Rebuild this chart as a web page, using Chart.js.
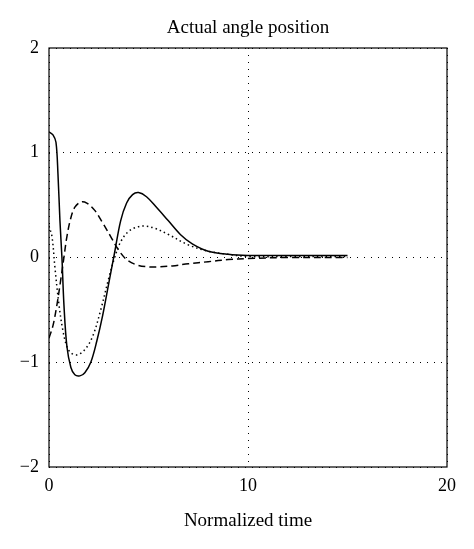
<!DOCTYPE html>
<html><head><meta charset="utf-8">
<script src="https://cdn.jsdelivr.net/npm/chart.js@4"></script>
<style>html,body{margin:0;padding:0;background:#fff}#w{width:474px;height:549px}</style>
</head><body><div id="w"><canvas id="c"></canvas></div>
<script>
const xTicks=[0,10,20];
const yTicks=[-2,-1,0,1,2];
const solidX=[0,0.2,0.35,0.45,0.55,0.65,0.75,0.9,1.1,1.3,1.55,1.8,2.1,2.4,2.7,3.0,3.3,3.6,3.9,4.2,4.5,4.9,5.4,6,6.6,7.2,8,9,10,12,15];
const solidY=[1.2,1.17,1.1,0.8,0.35,0.0,-0.45,-0.85,-1.05,-1.12,-1.13,-1.1,-1.0,-0.8,-0.55,-0.25,0.05,0.35,0.52,0.6,0.62,0.58,0.48,0.35,0.22,0.13,0.06,0.03,0.02,0.02,0.02];
const dotX=[0,0.15,0.3,0.5,0.7,0.9,1.1,1.4,1.8,2.2,2.6,3.0,3.3,3.6,4.0,4.4,4.8,5.3,6,7,8,9,10,12,15];
const dotY=[0.3,0.2,-0.1,-0.45,-0.7,-0.85,-0.91,-0.93,-0.88,-0.75,-0.5,-0.2,0.0,0.15,0.25,0.29,0.3,0.28,0.22,0.12,0.06,0.03,0.01,0.01,0.01];
const dashX=[0,0.2,0.4,0.6,0.75,0.9,1.1,1.3,1.6,1.9,2.3,2.7,3.1,3.5,3.9,4.4,5,5.5,6.2,7,8,9,10,12,15];
const dashY=[-0.77,-0.65,-0.45,-0.2,0.0,0.2,0.38,0.48,0.53,0.52,0.45,0.33,0.2,0.07,-0.02,-0.07,-0.09,-0.09,-0.08,-0.06,-0.04,-0.02,-0.01,0,0];
const pts=(xs,ys)=>xs.map((x,i)=>({x,y:ys[i]}));
const F='"Liberation Serif", "DejaVu Serif", serif';
const deco={id:'deco',afterDraw(ch){const a=ch.chartArea,c=ch.ctx;c.save();c.strokeStyle='#000';c.lineWidth=1.2;c.setLineDash([]);c.strokeRect(a.left,a.top,a.right-a.left,a.bottom-a.top);
c.fillStyle='#000';c.font='19px '+F;c.textAlign='center';c.textBaseline='middle';const mx=(a.left+a.right)/2;c.fillText('Actual angle position',mx,28);c.fillText('Normalized time',mx,521);c.restore();}};
const ds=(d,dash)=>({data:d,borderColor:'#000',borderWidth:1.5,borderDash:dash,pointRadius:0,tension:0.35,fill:false});
new Chart(document.getElementById('c'),{type:'line',
data:{datasets:[ds(pts(solidX,solidY),[]),ds(pts(dotX,dotY),[1.5,3]),ds(pts(dashX,dashY),[7,4])]},
options:{responsive:true,maintainAspectRatio:false,animation:false,
layout:{padding:{top:48,right:27,left:0,bottom:0}},
plugins:{legend:{display:false},tooltip:{enabled:false}},
scales:{
x:{type:'linear',min:0,max:20,afterBuildTicks:s=>{s.ticks=xTicks.map(v=>({value:v}))},afterFit:s=>{s.height=82},
grid:{color:'#000',lineWidth:1,drawTicks:false,tickBorderDash:[],},border:{display:false,dash:[1,6]},
ticks:{color:'#000',font:{family:F,size:18},padding:8,maxRotation:0}},
y:{min:-2,max:2,afterBuildTicks:s=>{s.ticks=yTicks.map(v=>({value:v}))},afterFit:s=>{s.width=49},
grid:{color:'#000',lineWidth:1,drawTicks:false},border:{display:false,dash:[1,6]},
ticks:{color:'#000',font:{family:F,size:18},padding:10,callback:v=>v<0?'\u2212'+(-v):String(v)}}
}},plugins:[deco]});
// dotted grid
Chart.defaults.scale.grid.borderDash=[1,6];
</script></body></html>
